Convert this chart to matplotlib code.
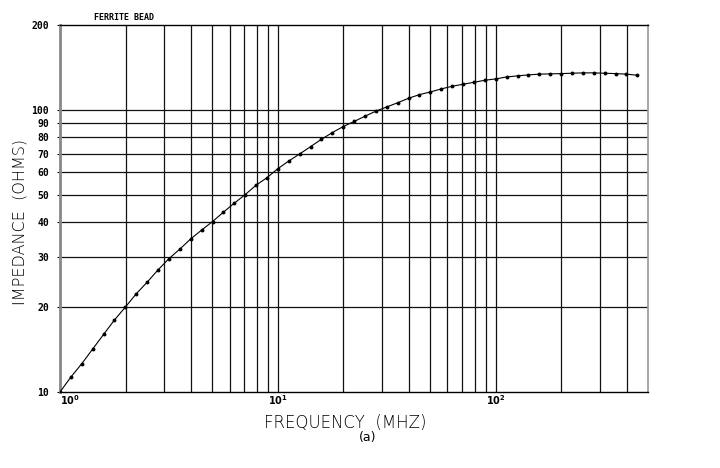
import numpy as np
import matplotlib
matplotlib.use("Agg")
import matplotlib.pyplot as plt
from matplotlib.ticker import FixedLocator, NullLocator

# Frequency points: 20 per decade from 1 MHz
freq_exponents = np.arange(0, 54) / 20.0
frequency_mhz = 10 ** freq_exponents
impedance_ohms = [
    10.0, 11.3, 12.6, 14.2, 16.0, 18.0, 20.0, 22.3, 24.5, 27.1,
    29.7, 32.1, 34.9, 37.5, 40.2, 43.4, 46.7, 50.1, 54.1, 57.5,
    61.9, 65.9, 69.8, 74.1, 78.7, 83.1, 87.3, 91.0, 95.0, 99.0,
    102.5, 106.0, 110.0, 113.3, 115.8, 118.7, 121.3, 123.3, 125.3, 127.4,
    128.8, 130.9, 132.0, 133.1, 133.9, 134.2, 134.5, 134.9, 135.3, 135.3,
    134.9, 134.5, 133.9, 132.7,
]

x_grid = [2, 3, 4, 5, 6, 7, 8, 9, 10, 20, 30, 40, 50, 60, 70, 80, 90, 100, 200, 300, 400]
y_grid = [20, 30, 40, 50, 60, 70, 80, 90, 100]
y_ticks = [10, 20, 30, 40, 50, 60, 70, 80, 90, 100, 200]
y_tick_labels = ["10", "20", "30", "40", "50", "60", "70", "80", "90", "100", "200"]
x_ticks = [1, 10, 100]
x_tick_labels = [r"$\mathbf{10^{0}}$", r"$\mathbf{10^{1}}$", r"$\mathbf{10^{2}}$"]

fig = plt.figure(figsize=(7.2, 4.68), dpi=100)
ax = fig.add_axes([60/720, 1-392/468, (648-60)/720, (392-25)/468])
ax.set_xscale("log")
ax.set_yscale("log")
ax.set_xlim(1, 500)
ax.set_ylim(10, 200)

for xv in x_grid:
    ax.axvline(xv, color="#111111", lw=0.9, zorder=1)
for yv in y_grid:
    ax.axhline(yv, color="#111111", lw=0.9, zorder=1)

ax.plot(frequency_mhz, impedance_ohms, color="black", lw=0.8, marker="o",
        markersize=1.8, zorder=3)

ax.yaxis.set_major_locator(FixedLocator(y_ticks))
ax.yaxis.set_minor_locator(NullLocator())
ax.set_yticklabels(y_tick_labels, fontsize=7, fontweight="bold",
                   family="DejaVu Sans Mono")
ax.xaxis.set_major_locator(FixedLocator(x_ticks))
ax.xaxis.set_minor_locator(NullLocator())
ax.set_xticklabels(x_tick_labels, fontsize=7)
ax.get_xticklabels()[0].set_horizontalalignment("left")
ax.tick_params(axis="y", length=2, width=0.8, pad=6)
ax.tick_params(axis="x", length=0, pad=1)

ax.spines["left"].set_color("#888888")
ax.spines["left"].set_linewidth(2.0)
ax.spines["right"].set_color("#999999")
ax.spines["right"].set_linewidth(1.2)
ax.spines["top"].set_linewidth(1.0)
ax.spines["bottom"].set_linewidth(1.0)

ax.set_ylabel("IMPEDANCE  (OHMS)", fontsize=11.5, fontweight="light",
              family="DejaVu Sans")
ax.set_xlabel("FREQUENCY  (MHZ)", fontsize=12, fontweight="light",
              family="DejaVu Sans")
ax.yaxis.set_label_coords((28-60)/588, (392-222)/367)
ax.xaxis.set_label_coords((345-60)/588, (392-414)/367)

fig.text(94/720, 1-17/468, "FERRITE BEAD", fontsize=6, fontweight="bold",
         family="DejaVu Sans Mono", va="center", ha="left")
fig.text(368/720, 1-437/468, "(a)", fontsize=9, va="center", ha="center")

fig.savefig("out.png", dpi=100, facecolor="white")
